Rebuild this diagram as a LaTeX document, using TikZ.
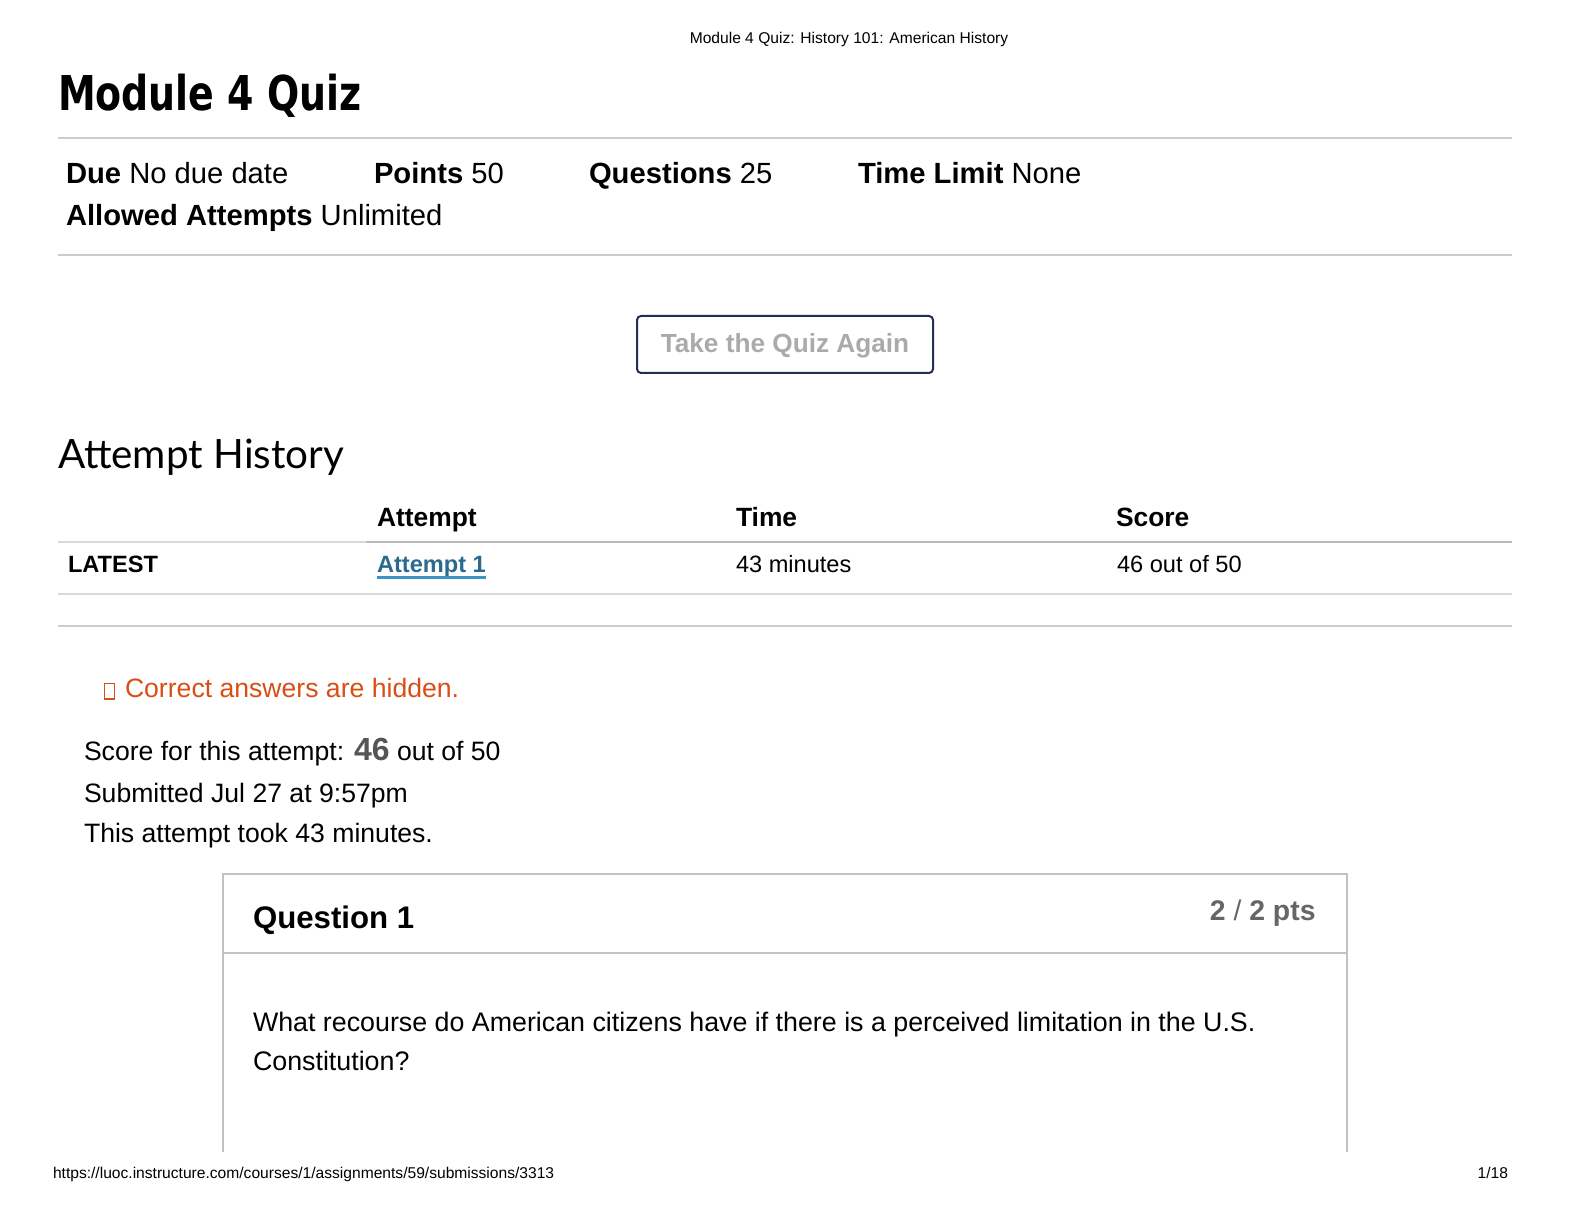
\documentclass[tikz,border=0pt]{standalone}
\usepackage{fontspec}
\setmainfont{Liberation Sans}
\newfontfamily\latofont{Lato}
\newfontfamily\titlefont[FakeStretch=0.79]{DejaVu Sans}
\newcommand\myfs[1]{\fontsize{#1}{#1}\selectfont}
\definecolor{rulegray}{HTML}{CCCCCC}
\definecolor{redtext}{HTML}{D84E14}
\definecolor{navy}{HTML}{1F2F4F}
\definecolor{btngray}{HTML}{AAAAAA}
\definecolor{linkblue}{HTML}{2B6A8E}
\definecolor{ulblue}{HTML}{3A93C9}
\definecolor{darkgray}{HTML}{555555}
\definecolor{ptsgray}{HTML}{666666}
\definecolor{boxgray}{HTML}{C2C2C2}
\definecolor{tablight}{HTML}{D6DADD}
\definecolor{tabdark}{HTML}{B3BCC2}
\tikzset{
  txt/.style={anchor=base west, inner sep=0pt, outer sep=0pt},
  body/.style={txt, font=\myfs{13.3pt}},
  meta/.style={txt, font=\myfs{14.6pt}},
  thead/.style={txt, font=\myfs{13.2pt}\bfseries},
  tcell/.style={txt, font=\myfs{11.8pt}},
  small/.style={inner sep=0pt, outer sep=0pt, font=\myfs{7.8pt}},
  hrule/.style={draw=rulegray, line width=1pt},
}
\begin{document}
\begin{tikzpicture}[x=0.5pt, y=-0.5pt]
\useasboundingbox (0,0) rectangle (1584,1224);
% page header
\node[small, anchor=base] (hdr) at (849,44) {Module 4 Quiz: History 101: American History};
% title
\node[txt, font=\titlefont\bfseries\myfs{24pt}] (title) at (58,111) {Module 4 Quiz};
\draw[hrule] (58,138) -- (1512,138);
% metadata
\node[meta] (due) at (66,184) {\textbf{Due} No due date};
\node[meta] (points) at (374,184) {\textbf{Points} 50};
\node[meta] (quest) at (589,184) {\textbf{Questions} 25};
\node[meta] (tlimit) at (858,184) {\textbf{Time Limit} None};
\node[meta] (allowed) at (66,226) {\textbf{Allowed Attempts} Unlimited};
\draw[hrule] (58,255) -- (1512,255);
% button
\draw[navy, line width=1pt, rounded corners=2pt] (637,316) rectangle (933,373);
\node[inner sep=0pt, anchor=base, font=\myfs{13.1pt}\bfseries, text=btngray] (btn) at (785,353) {Take the Quiz Again};
% attempt history
\node[txt, font=\latofont\myfs{20.2pt}] (ahist) at (58,469) {Attempt History};
\node[thead] (hA) at (377,527) {Attempt};
\node[thead] (hT) at (736,527) {Time};
\node[thead] (hS) at (1116,527) {Score};
\draw[tablight, line width=1pt] (58,542) -- (366,542);
\draw[tabdark, line width=1.3pt] (366,542) -- (1512,542);
\node[tcell, font=\myfs{11.8pt}\bfseries] (latest) at (68,573) {LATEST};
\node[tcell, font=\myfs{11.8pt}\bfseries, text=linkblue] (att1) at (377,573) {Attempt 1};
\draw[ulblue, line width=1.2pt] (377,577.5) -- (486,577.5);
\node[tcell] (mins) at (736,573) {43 minutes};
\node[tcell] (score) at (1117,573) {46 out of 50};
\draw[tablight, line width=1pt] (58,594) -- (1512,594);
\draw[hrule] (58,626) -- (1512,626);
% hidden answers
\draw[redtext, line width=0.9pt] (104.5,683.5) rectangle (114.5,699);
\node[body, text=redtext] (hidden) at (125,697) {Correct answers are hidden.};
\node[body] (scoreline) at (84,760) {Score for this attempt: {\bfseries\color{darkgray}\myfs{16pt}46} out of 50};
\node[body] (submitted) at (84,802) {Submitted Jul 27 at 9:57pm};
\node[body] (took) at (84,842) {This attempt took 43 minutes.};
% question box
\draw[boxgray, line width=1pt] (223,1152) -- (223,874) -- (1347,874) -- (1347,1152);
\draw[boxgray, line width=1pt] (223,953) -- (1347,953);
\node[txt, font=\myfs{15.6pt}\bfseries] (q1) at (253,928) {Question 1};
\node[inner sep=0pt, anchor=base east, font=\myfs{14.2pt}\bfseries, text=ptsgray] (pts) at (1316,920) {2 {\mdseries/} 2 pts};
\node[body, font=\myfs{13.4pt}] (qtext1) at (253,1031) {What recourse do American citizens have if there is a perceived limitation in the U.S.};
\node[body, font=\myfs{13.4pt}] (qtext2) at (253,1070) {Constitution?};
% footer
\node[small, anchor=base west] (url) at (53,1178) {https://luoc.instructure.com/courses/1/assignments/59/submissions/3313};
\node[small, anchor=base east] (pg) at (1508,1178) {1/18};
\end{tikzpicture}
\end{document}
